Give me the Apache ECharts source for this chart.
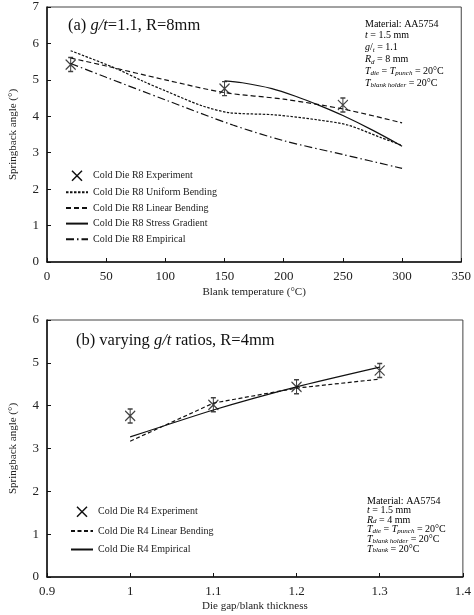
<!DOCTYPE html>
<html>
<head>
<meta charset="utf-8">
<script src="https://cdn.jsdelivr.net/npm/echarts@6/dist/echarts.min.js"></script>
<style>
  html, body { margin: 0; padding: 0; background: #fff; }
  #chart { width: 474px; height: 615px; }
</style>
</head>
<body>
<div id="chart"></div>
<script>
// (a) g/t = 1.1, R = 8 mm, vs blank temperature
const tempExpR8 = [20, 150, 250];
const expR8 = [5.42, 4.76, 4.31];
const tempUniformR8 = [20, 57, 82, 100, 130, 154, 192, 229, 254, 281, 300];
const uniformR8 = [5.8, 5.33, 4.95, 4.7, 4.3, 4.1, 4.04, 3.9, 3.76, 3.43, 3.2];
const tempLinearR8 = [20, 50, 100, 150, 200, 250, 300];
const linearR8 = [5.6, 5.38, 5.0, 4.65, 4.47, 4.2, 3.82];
const tempStressR8 = [150, 165, 190, 210, 230, 250, 275, 300];
const stressR8 = [4.97, 4.92, 4.76, 4.55, 4.3, 4.02, 3.62, 3.18];
const tempEmpR8 = [20, 50, 100, 157, 200, 250, 300];
const empR8 = [5.45, 5.07, 4.45, 3.76, 3.33, 2.95, 2.57];

// (b) varying g/t, R = 4 mm
const gapExpR4 = [1.0, 1.1, 1.2, 1.3];
const expR4 = [3.76, 4.02, 4.44, 4.82];
const gapLinearR4 = [1.0, 1.1, 1.2, 1.3];
const linearR4 = [3.17, 4.06, 4.41, 4.62];
const gapEmpR4 = [1.0, 1.1, 1.2, 1.3];
const empR4 = [3.27, 3.9, 4.44, 4.9];

const namesA = ['Cold Die R8 Experiment', 'Cold Die R8 Uniform Bending', 'Cold Die R8 Linear Bending',
  'Cold Die R8 Stress Gradient', 'Cold Die R8 Empirical'];
const namesB = ['Cold Die R4 Experiment', 'Cold Die R4 Linear Bending', 'Cold Die R4 Empirical'];

const pairs = (xs, ys) => xs.map((x, i) => [x, ys[i]]);

const serif = 'Liberation Serif';
const ink = '#111';
// cross with error bar
const expSymbol = 'path://M0,2L10,12M10,2L0,12M5,0L5,14M2.5,0L7.5,0M2.5,14L7.5,14';
const smallX = 'path://M0,0L6,6M6,0L0,6';

const myChart = echarts.init(document.getElementById('chart'));

function axisBase() {
    return {
        axisLine: { show: true, lineStyle: { color: ink, width: 1.5 } },
        axisTick: { show: true, inside: true, length: 4, lineStyle: { color: ink } },
        axisLabel: { color: '#222', fontFamily: serif, fontSize: 13 },
        splitLine: { show: false },
        nameTextStyle: { color: '#222', fontFamily: serif, fontSize: 11 }
    };
}

const lineSeries = (name, xi, data, type, smooth) => ({
    name: name, type: 'line', xAxisIndex: xi, yAxisIndex: xi,
    data: data, symbol: 'none', smooth: smooth,
    lineStyle: { color: ink, width: 1.2, type: type },
    itemStyle: { color: ink }
});

const expSeries = (name, xi, data) => ({
    name: name, type: 'scatter', xAxisIndex: xi, yAxisIndex: xi,
    data: data, symbol: expSymbol, symbolSize: [10, 14], z: 5,
    itemStyle: { color: 'rgba(0,0,0,0)', borderColor: ink, borderWidth: 1.2 }
});

const legendBase = {
    orient: 'vertical', padding: 0, itemWidth: 22, itemHeight: 10,
    textStyle: { color: '#222', fontFamily: serif, fontSize: 10 },
    itemStyle: { opacity: 0 },
    inactiveColor: ink
};

const expLegendStyle = { color: 'rgba(0,0,0,0)', borderColor: ink, borderWidth: 1.5, opacity: 1 };

const infoRich = {
    n: { fontFamily: serif, fontSize: 10, color: '#333' },
    i: { fontFamily: serif, fontSize: 10, fontStyle: 'italic', color: '#333' },
    s: { fontFamily: serif, fontSize: 7, fontStyle: 'italic', color: '#333', verticalAlign: 'bottom' }
};

const titleRich = {
    n: { fontFamily: serif, fontSize: 16.5, fontWeight: 'normal', color: '#111' },
    i: { fontFamily: serif, fontSize: 16.5, fontWeight: 'normal', fontStyle: 'italic', color: '#111' }
};

const option = {
    backgroundColor: '#fff',
    animation: false,
    title: [
        {
            text: '{n|(a) }{i|g/t}{n|=1.1, R=8mm}', left: 68, top: 17, padding: 0,
            textStyle: { fontWeight: 'normal', rich: titleRich }
        },
        {
            text: '{n|(b) varying }{i|g/t}{n| ratios, R=4mm}', left: 76, top: 332, padding: 0,
            textStyle: { fontWeight: 'normal', rich: titleRich }
        }
    ],
    legend: [
        Object.assign({}, legendBase, {
            left: 65, top: 170, itemGap: 5.7,
            data: [{ name: namesA[0], icon: smallX, itemStyle: expLegendStyle },
                namesA[1], namesA[2], namesA[3], namesA[4]]
        }),
        Object.assign({}, legendBase, {
            left: 70, top: 506, itemGap: 8.5,
            data: [{ name: namesB[0], icon: smallX, itemStyle: expLegendStyle },
                namesB[1], namesB[2]]
        })
    ],
    grid: [
        { left: 41, right: 11, top: 7, height: 255, show: true, borderColor: '#444', borderWidth: 1 },
        { left: 43, right: 9, top: 320, height: 257, show: true, borderColor: '#444', borderWidth: 1 }
    ],
    xAxis: [
        Object.assign(axisBase(), {
            gridIndex: 0, type: 'value', min: 0, max: 350, interval: 50,
            name: 'Blank temperature (°C)', nameLocation: 'middle', nameGap: 25
        }),
        Object.assign(axisBase(), {
            gridIndex: 1, type: 'value', min: 0.9, max: 1.4, interval: 0.1,
            name: 'Die gap/blank thickness', nameLocation: 'middle', nameGap: 24
        })
    ],
    yAxis: [
        Object.assign(axisBase(), {
            gridIndex: 0, type: 'value', min: 0, max: 7, interval: 1,
            name: 'Springback angle (°)', nameLocation: 'middle', nameGap: 28
        }),
        Object.assign(axisBase(), {
            gridIndex: 1, type: 'value', min: 0, max: 6, interval: 1,
            name: 'Springback angle (°)', nameLocation: 'middle', nameGap: 28
        })
    ],
    graphic: [
        {
            type: 'text', left: 365, top: 18,
            style: {
                text: [
                    '{n|Material: AA5754}',
                    '{i|t}{n| = 1.5 mm}',
                    '{i|g}{n|/}{s|t}{n| = 1.1}',
                    '{i|R}{s|d}{n| = 8 mm}',
                    '{i|T}{s|die}{n| = }{i|T}{s|punch}{n| = 20°C}',
                    '{i|T}{s|blank holder}{n| = 20°C}'
                ].join('\n'),
                lineHeight: 11.8, rich: infoRich
            }
        },
        {
            type: 'text', left: 367, top: 496,
            style: {
                text: [
                    '{n|Material: AA5754}',
                    '{i|t}{n| = 1.5 mm}',
                    '{i|R}{s|d}{n| = 4 mm}',
                    '{i|T}{s|die}{n| = }{i|T}{s|punch}{n| = 20°C}',
                    '{i|T}{s|blank holder}{n| = 20°C}',
                    '{i|T}{s|blank}{n| = 20°C}'
                ].join('\n'),
                lineHeight: 9.6, rich: infoRich
            }
        }
    ],
    series: [
        expSeries(namesA[0], 0, pairs(tempExpR8, expR8)),
        lineSeries(namesA[1], 0, pairs(tempUniformR8, uniformR8), [2.5, 1.5], 0.3),
        lineSeries(namesA[2], 0, pairs(tempLinearR8, linearR8), [5, 3], 0.3),
        lineSeries(namesA[3], 0, pairs(tempStressR8, stressR8), 'solid', 0.3),
        lineSeries(namesA[4], 0, pairs(tempEmpR8, empR8), [8, 3, 1.5, 3], 0.3),
        expSeries(namesB[0], 1, pairs(gapExpR4, expR4)),
        lineSeries(namesB[1], 1, pairs(gapLinearR4, linearR4), [4, 2.5], false),
        lineSeries(namesB[2], 1, pairs(gapEmpR4, empR4), 'solid', 0.2)
    ]
};

option && myChart.setOption(option);
</script>
</body>
</html>
